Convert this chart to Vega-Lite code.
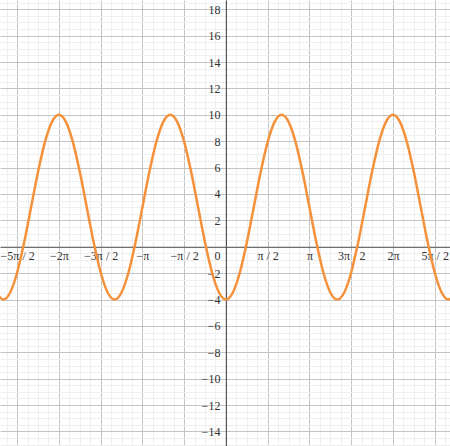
{
  "$schema": "https://vega.github.io/schema/vega-lite/v6.json",
  "width": 450,
  "height": 446,
  "autosize": {"type": "none"},
  "padding": 0,
  "background": "white",
  "config": {"view": {"stroke": null}},
  "data": {"values": [
    {"x": -8.6394, "y": -3.467}, {"x": -8.3776, "y": -4}, {"x": -8.1158, "y": -3.467}, {"x": -7.854, "y": -1.95},
    {"x": -7.5922, "y": 0.321}, {"x": -7.3304, "y": 3}, {"x": -7.0686, "y": 5.679}, {"x": -6.8068, "y": 7.95},
    {"x": -6.545, "y": 9.467}, {"x": -6.2832, "y": 10}, {"x": -6.0214, "y": 9.467}, {"x": -5.7596, "y": 7.95},
    {"x": -5.4978, "y": 5.679}, {"x": -5.236, "y": 3}, {"x": -4.9742, "y": 0.321}, {"x": -4.7124, "y": -1.95},
    {"x": -4.4506, "y": -3.467}, {"x": -4.1888, "y": -4}, {"x": -3.927, "y": -3.467}, {"x": -3.6652, "y": -1.95},
    {"x": -3.4034, "y": 0.321}, {"x": -3.1416, "y": 3}, {"x": -2.8798, "y": 5.679}, {"x": -2.618, "y": 7.95},
    {"x": -2.3562, "y": 9.467}, {"x": -2.0944, "y": 10}, {"x": -1.8326, "y": 9.467}, {"x": -1.5708, "y": 7.95},
    {"x": -1.309, "y": 5.679}, {"x": -1.0472, "y": 3}, {"x": -0.7854, "y": 0.321}, {"x": -0.5236, "y": -1.95},
    {"x": -0.2618, "y": -3.467}, {"x": 0, "y": -4}, {"x": 0.2618, "y": -3.467}, {"x": 0.5236, "y": -1.95},
    {"x": 0.7854, "y": 0.321}, {"x": 1.0472, "y": 3}, {"x": 1.309, "y": 5.679}, {"x": 1.5708, "y": 7.95},
    {"x": 1.8326, "y": 9.467}, {"x": 2.0944, "y": 10}, {"x": 2.3562, "y": 9.467}, {"x": 2.618, "y": 7.95},
    {"x": 2.8798, "y": 5.679}, {"x": 3.1416, "y": 3}, {"x": 3.4034, "y": 0.321}, {"x": 3.6652, "y": -1.95},
    {"x": 3.927, "y": -3.467}, {"x": 4.1888, "y": -4}, {"x": 4.4506, "y": -3.467}, {"x": 4.7124, "y": -1.95},
    {"x": 4.9742, "y": 0.321}, {"x": 5.236, "y": 3}, {"x": 5.4978, "y": 5.679}, {"x": 5.7596, "y": 7.95},
    {"x": 6.0214, "y": 9.467}, {"x": 6.2832, "y": 10}, {"x": 6.545, "y": 9.467}, {"x": 6.8068, "y": 7.95},
    {"x": 7.0686, "y": 5.679}, {"x": 7.3304, "y": 3}, {"x": 7.5922, "y": 0.321}, {"x": 7.854, "y": -1.95},
    {"x": 8.1158, "y": -3.467}, {"x": 8.3776, "y": -4}, {"x": 8.6394, "y": -3.467}
  ]},
  "mark": {"type": "line", "color": "#f5913a", "strokeWidth": 2.5, "interpolate": "monotone", "clip": true},
  "encoding": {
    "x": {
      "field": "x", "type": "quantitative",
      "scale": {"domain": [-8.5, 8.43], "nice": false, "zero": false},
      "axis": {
        "title": null, "orient": "bottom", "offset": -199.25, "zindex": 0,
        "values": [-8.2467, -7.854, -7.4613, -7.0686, -6.6759, -6.2832, -5.8905, -5.4978, -5.1051, -4.7124, -4.3197, -3.927, -3.5343, -3.1416, -2.7489, -2.3562, -1.9635, -1.5708, -1.1781, -0.7854, -0.3927, 0, 0.3927, 0.7854, 1.1781, 1.5708, 1.9635, 2.3562, 2.7489, 3.1416, 3.5343, 3.927, 4.3197, 4.7124, 5.1051, 5.4978, 5.8905, 6.2832, 6.6759, 7.0686, 7.4613, 7.854, 8.2467],
        "grid": true,
        "gridColor": {"condition": {"test": "abs(round(datum.value*8/PI)) % 4 == 0", "value": "#c4c4c4"}, "value": "#efefef"},
        "gridWidth": 1,
        "ticks": false, "tickSize": 0,
        "domain": true, "domainColor": "#555555", "domainWidth": 1.2,
        "labelExpr": "abs(round(datum.value*8/PI)) % 4 != 0 ? '' : (round(datum.value*2/PI) == 0 ? '0' : (round(datum.value*2/PI) < 0 ? '\u2212' : '') + (abs(round(datum.value*2/PI)) % 2 == 0 ? ((abs(round(datum.value*2/PI))/2 == 1 ? '' : '' + abs(round(datum.value*2/PI))/2) + '\u03c0') : ((abs(round(datum.value*2/PI)) == 1 ? '' : '' + abs(round(datum.value*2/PI))) + '\u03c0 / 2')))",
        "labelFont": "Liberation Serif", "labelFontSize": 12, "labelColor": "#333333",
        "labelPadding": 4, "labelOverlap": false, "labelFlush": false, "labelBound": false,
        "labelBaseline": "top",
        "labelAlign": {"condition": {"test": "datum.value == 0", "value": "right"}, "value": "center"},
        "labelOffset": {"condition": {"test": "datum.value == 0", "value": -6}, "value": 0}
      }
    },
    "y": {
      "field": "y", "type": "quantitative",
      "scale": {"domain": [-15.1, 18.7], "nice": false, "zero": false},
      "axis": {
        "title": null, "orient": "left", "offset": -225.9, "zindex": 0,
        "values": [-15, -14.5, -14, -13.5, -13, -12.5, -12, -11.5, -11, -10.5, -10, -9.5, -9, -8.5, -8, -7.5, -7, -6.5, -6, -5.5, -5, -4.5, -4, -3.5, -3, -2.5, -2, -1.5, -1, -0.5, 0, 0.5, 1, 1.5, 2, 2.5, 3, 3.5, 4, 4.5, 5, 5.5, 6, 6.5, 7, 7.5, 8, 8.5, 9, 9.5, 10, 10.5, 11, 11.5, 12, 12.5, 13, 13.5, 14, 14.5, 15, 15.5, 16, 16.5, 17, 17.5, 18, 18.5],
        "grid": true,
        "gridColor": {"condition": {"test": "datum.value % 2 == 0", "value": "#c4c4c4"}, "value": "#efefef"},
        "gridWidth": 1,
        "ticks": false, "tickSize": 0,
        "domain": true, "domainColor": "#555555", "domainWidth": 1.2,
        "labelExpr": "datum.value % 2 == 0 && datum.value != 0 ? (datum.value < 0 ? '\u2212' + abs(datum.value) : '' + datum.value) : ''",
        "labelFont": "Liberation Serif", "labelFontSize": 12, "labelColor": "#333333",
        "labelPadding": 6, "labelOverlap": false, "labelFlush": false, "labelBound": false,
        "labelBaseline": "middle", "labelAlign": "right"
      }
    }
  }
}
